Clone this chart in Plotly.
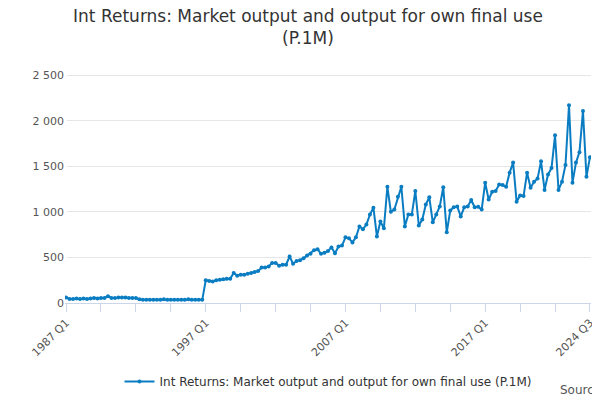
import plotly.graph_objects as go

years = list(range(1987, 2025))
quarters = [f"{y} Q{q}" for y in years for q in range(1, 5)][:151]

values = [
    60, 45, 45, 50,
    45, 50, 45, 50,
    55, 50, 55, 55,
    75, 55, 55, 60,
    60, 60, 55, 55,
    55, 40, 35, 35,
    35, 35, 35, 35,
    40, 35, 35, 35,
    35, 35, 35, 40,
    35, 35, 35, 35,
    250, 240, 235, 250,
    255, 260, 265, 265,
    330, 300, 310, 310,
    320, 330, 340, 350,
    390, 390, 400, 440,
    440, 410, 420, 420,
    510, 430, 460, 470,
    490, 520, 540, 580,
    590, 540, 550, 570,
    610, 545, 620, 630,
    720, 710, 665, 720,
    840, 810, 860, 970,
    1045, 730, 895, 820,
    1275, 1000, 1025, 1165,
    1275, 840, 970, 970,
    1230, 850, 915, 1080,
    1160, 885, 970, 1060,
    1270, 775, 1015, 1050,
    1060, 950, 1050, 1060,
    1130, 1050, 1055, 1025,
    1320, 1135, 1220, 1230,
    1300, 1295, 1275, 1430,
    1540, 1110, 1180, 1175,
    1430, 1265, 1330, 1365,
    1555, 1240, 1410, 1480,
    1840, 1240, 1330, 1515,
    2170, 1320, 1540, 1655,
    2105, 1385, 1600,
]

tick_idx = list(range(0, 151, 10))
label_map = {0: "1987 Q1", 40: "1997 Q1", 80: "2007 Q1", 120: "2017 Q1", 150: "2024 Q3"}
tick_text = [label_map.get(i, "") for i in tick_idx]

name = "Int Returns: Market output and output for own final use (P.1M)"
fig = go.Figure(go.Scatter(
    x=list(range(len(values))), y=values, mode="lines+markers", name=name,
    line=dict(color="#0a7dc2", width=2), marker=dict(size=4, color="#0a7dc2"),
    showlegend=True,
))
fig.update_layout(
    width=600, height=400, plot_bgcolor="white", paper_bgcolor="white",
    font=dict(family="DejaVu Sans", color="#555"),
    separators=". ",
    title=dict(text="Int Returns: Market output and output for own final use<br>(P.1M)",
               x=0.5, xanchor="center", y=0.965, font=dict(size=17, color="#333")),
    margin=dict(l=57, r=17, t=58, b=103),
    xaxis=dict(tickvals=tick_idx, ticktext=tick_text, tickangle=-45, range=[-0.3, 150.3],
               showgrid=False, showline=True, linecolor="#ccd6eb", ticks="outside",
               tickcolor="#ccd6eb", ticklen=8, tickfont=dict(size=11, color="#555")),
    yaxis=dict(range=[0, 2600], tickvals=[0, 500, 1000, 1500, 2000, 2500],
               tickformat=",d", gridcolor="#e6e6e6", zeroline=False,
               tickfont=dict(size=11, color="#555")),
    legend=dict(orientation="h", x=0.5, xanchor="center", y=-0.27, yanchor="top",
                font=dict(size=12, color="#333")),
    annotations=[dict(text="Source:", xref="paper", yref="paper", x=1.03, y=-0.33,
                      xanchor="right", yanchor="top", showarrow=False,
                      font=dict(size=12, color="#555"))],
)
fig.write_html("out.html")
